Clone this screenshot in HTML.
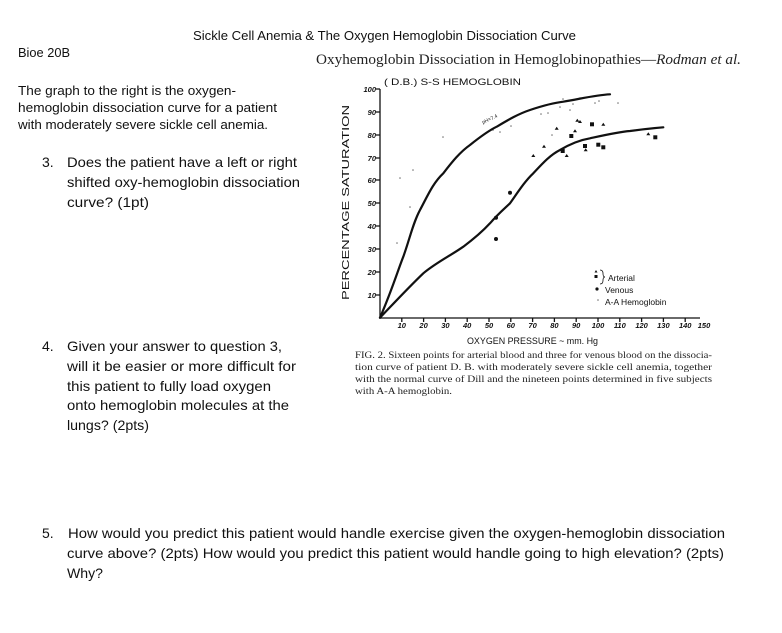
<!DOCTYPE html>
<html><head><meta charset="utf-8"><style>
html,body{margin:0;padding:0;background:#fff;}
svg{display:block;}
.s{font-family:"Liberation Sans",sans-serif;fill:#111;}
.r{font-family:"Liberation Serif",serif;fill:#222;}
</style></head><body>
<svg width="782" height="633" viewBox="0 0 782 633" xmlns="http://www.w3.org/2000/svg">
<g class="s" font-size="13">
<text x="193" y="40" textLength="383" lengthAdjust="spacingAndGlyphs">Sickle Cell Anemia &amp; The Oxygen Hemoglobin Dissociation Curve</text>
<text x="18" y="57" textLength="52" lengthAdjust="spacingAndGlyphs">Bioe 20B</text>
<text x="18" y="95" textLength="218" lengthAdjust="spacingAndGlyphs">The graph to the right is the oxygen-</text>
<text x="18" y="112" textLength="259" lengthAdjust="spacingAndGlyphs">hemoglobin dissociation curve for a patient</text>
<text x="18" y="129" textLength="250" lengthAdjust="spacingAndGlyphs">with moderately severe sickle cell anemia.</text>
</g>
<g class="s" font-size="14">
<text x="42" y="167">3.</text>
<text x="67" y="167" textLength="230" lengthAdjust="spacingAndGlyphs">Does the patient have a left or right</text>
<text x="67" y="187" textLength="233" lengthAdjust="spacingAndGlyphs">shifted oxy-hemoglobin dissociation</text>
<text x="67" y="207" textLength="82" lengthAdjust="spacingAndGlyphs">curve? (1pt)</text>
<text x="42" y="351">4.</text>
<text x="67" y="351" textLength="215" lengthAdjust="spacingAndGlyphs">Given your answer to question 3,</text>
<text x="67" y="371" textLength="229" lengthAdjust="spacingAndGlyphs">will it be easier or more difficult for</text>
<text x="67" y="391" textLength="204" lengthAdjust="spacingAndGlyphs">this patient to fully load oxygen</text>
<text x="67" y="410" textLength="222" lengthAdjust="spacingAndGlyphs">onto hemoglobin molecules at the</text>
<text x="67" y="430" textLength="82" lengthAdjust="spacingAndGlyphs">lungs? (2pts)</text>
<text x="42" y="538">5.</text>
<text x="68" y="538" textLength="657" lengthAdjust="spacingAndGlyphs">How would you predict this patient would handle exercise given the oxygen-hemoglobin dissociation</text>
<text x="67" y="558" textLength="657" lengthAdjust="spacingAndGlyphs">curve above? (2pts)  How would you predict this patient would handle going to high elevation? (2pts)</text>
<text x="67" y="578" textLength="36" lengthAdjust="spacingAndGlyphs">Why?</text>
</g>
<text class="r" x="316" y="64" font-size="15" textLength="425" lengthAdjust="spacingAndGlyphs">Oxyhemoglobin Dissociation in Hemoglobinopathies—<tspan font-style="italic">Rodman et al.</tspan></text>
<g stroke="#111" stroke-width="1.3" fill="none">
<path d="M380,89 V318 H700"/>
<path d="M376,89H380M376,112H380M376,135H380M376,158H380M376,180H380M376,203H380M376,226H380M376,249H380M376,272H380M376,295H380"/>
<path d="M401.8,318v4M423.6,318v4M445.4,318v4M467.2,318v4M489,318v4M510.8,318v4M532.6,318v4M554.4,318v4M576.2,318v4M598,318v4M619.8,318v4M641.6,318v4M663.4,318v4M685.2,318v4"/>
</g>
<g class="s" font-size="7.5" font-weight="bold" font-style="italic" text-anchor="end">
<text x="376" y="92">100</text><text x="376" y="115">90</text><text x="376" y="138">80</text><text x="376" y="161">70</text><text x="376" y="183">60</text><text x="376" y="206">50</text><text x="376" y="229">40</text><text x="376" y="252">30</text><text x="376" y="275">20</text><text x="376" y="298">10</text>
</g>
<g class="s" font-size="7.5" font-weight="bold" font-style="italic" text-anchor="middle">
<text x="401.8" y="328">10</text><text x="423.6" y="328">20</text><text x="445.4" y="328">30</text><text x="467.2" y="328">40</text><text x="489" y="328">50</text><text x="510.8" y="328">60</text><text x="532.6" y="328">70</text><text x="554.4" y="328">80</text><text x="576.2" y="328">90</text><text x="598" y="328">100</text><text x="619.8" y="328">110</text><text x="641.6" y="328">120</text><text x="663.4" y="328">130</text><text x="685.2" y="328">140</text><text x="704" y="328">150</text>
</g>
<text class="s" font-size="9" x="467" y="344" textLength="131" lengthAdjust="spacingAndGlyphs">OXYGEN  PRESSURE ~ mm. Hg</text>
<text class="s" font-size="10" transform="translate(349,300) rotate(-90)" textLength="195" lengthAdjust="spacingAndGlyphs">PERCENTAGE  SATURATION</text>
<text class="s" font-size="9" x="384" y="85" textLength="137" lengthAdjust="spacingAndGlyphs">( D.B.)  S-S  HEMOGLOBIN</text>
<text class="s" font-size="5" transform="translate(483,124) rotate(-25)">pH=7.4</text>
<g stroke="#111" stroke-width="2.2" fill="none" stroke-linecap="round">
<path d="M380,317.7 C392,290 398,270 403.3,256.7 C410,238 413,223 420,210 C428,195 433,183 443.3,173.3 C452,162 460,152 470,145 C480,137 488,131 496.7,126.7 C508,120 518,114 530,110 C542,106 552,103 563.3,101.7 C580,99 595,95 610,94.3"/>
<path d="M380,317.7 C395,302 408,288 423.3,273.3 C437,262 450,256 463.3,246.7 C475,238 482,232 490,223.3 C498,214 504,209 510,203.3 C518,192 525,181 533.3,173.3 C542,164 550,155 560,150 C570,144 580,140 590,138.3 C605,135 618,132 630,131 C645,129 655,128 663.3,127.3"/>
</g>
<g fill="#111">
<path d="M533.3,154 l2,3 h-4z M544,144.7 l2,3 h-4z M556.7,126.7 l2,3 h-4z M577.3,118.7 l2,3 h-4z M575,129.3 l2,3 h-4z M603.3,122.7 l2,3 h-4z M566.7,154 l2,3 h-4z M648.3,132.3 l2,3 h-4z M585.7,148.3 l2,3 h-4z M580,120 l2,3 h-4z"/>
<rect x="560.7" y="149" width="4" height="4"/><rect x="569.3" y="134" width="4" height="4"/><rect x="590" y="122.3" width="4" height="4"/><rect x="583" y="144" width="4" height="4"/><rect x="596.3" y="142.7" width="4" height="4"/><rect x="601.3" y="145.3" width="4" height="4"/><rect x="653.3" y="135.3" width="4" height="4"/>
<circle cx="510" cy="192.7" r="2"/><circle cx="496" cy="217.7" r="2"/><circle cx="496" cy="239" r="2"/>
<path d="M596,270 l1.5,2.5h-3z"/><rect x="594.5" y="275" width="3" height="3"/>
<circle cx="597" cy="289" r="1.6"/>
<g opacity="0.6"><circle cx="443" cy="137" r="0.8"/><circle cx="413" cy="170" r="0.8"/><circle cx="400" cy="178" r="0.8"/><circle cx="397" cy="243" r="0.8"/><circle cx="410" cy="207" r="0.8"/><circle cx="493" cy="130" r="0.8"/><circle cx="500" cy="132" r="0.8"/><circle cx="511" cy="126" r="0.8"/><circle cx="541" cy="114" r="0.8"/><circle cx="548" cy="113" r="0.8"/><circle cx="560" cy="107" r="0.8"/><circle cx="573" cy="104" r="0.8"/><circle cx="580" cy="98" r="0.8"/><circle cx="563" cy="99" r="0.8"/><circle cx="570" cy="110" r="0.8"/><circle cx="595" cy="103" r="0.8"/><circle cx="618" cy="103" r="0.8"/><circle cx="552" cy="135" r="0.8"/><circle cx="599" cy="101" r="0.8"/><circle cx="598" cy="300" r="0.8"/></g>
</g>
<path d="M600,270 q3,0 3,3.5 q0,3.5 2,3.5 q-2,0 -2,3.5 q0,3.5 -3,3.5" stroke="#111" fill="none" stroke-width="0.8"/>
<g class="s" font-size="8.5">
<text x="608" y="281">Arterial</text><text x="605" y="293">Venous</text><text x="605" y="305">A-A  Hemoglobin</text>
</g>
<g class="r" font-size="9">
<text x="355" y="358" textLength="357" lengthAdjust="spacingAndGlyphs">FIG. 2. Sixteen points for arterial blood and three for venous blood on the dissocia-</text>
<text x="355" y="370" textLength="357" lengthAdjust="spacingAndGlyphs">tion curve of patient D. B. with moderately severe sickle cell anemia, together</text>
<text x="355" y="382" textLength="357" lengthAdjust="spacingAndGlyphs">with the normal curve of Dill and the nineteen points determined in five subjects</text>
<text x="355" y="394" textLength="97" lengthAdjust="spacingAndGlyphs">with A-A hemoglobin.</text>
</g>
</svg>
</body></html>
